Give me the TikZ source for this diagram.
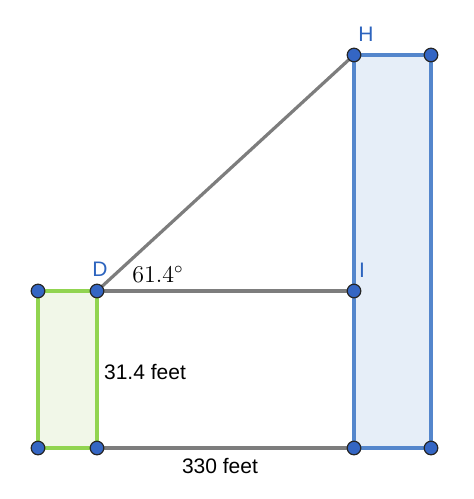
\documentclass[tikz,border=0pt]{standalone}
\usepackage{fontspec}
\setmainfont{Liberation Sans}
\definecolor{ptblue}{RGB}{52,102,196}
\definecolor{lblblue}{RGB}{45,100,190}
\definecolor{grn}{RGB}{145,212,80}
\definecolor{grnfill}{RGB}{241,247,232}
\definecolor{blu}{RGB}{84,134,204}
\definecolor{blufill}{RGB}{230,238,248}
\definecolor{seg}{RGB}{125,125,125}
\tikzset{
  pt/.style={circle,fill=ptblue,draw=black!85,line width=0.6pt,inner sep=0pt,minimum size=6.8pt},
  lbl/.style={text=lblblue,font=\fontsize{10.5}{12}\selectfont},
  txt/.style={font=\fontsize{10.5}{12}\selectfont}
}
\begin{document}
\begin{tikzpicture}[x=0.5pt,y=-0.5pt,line width=1.6pt]
\useasboundingbox (0,0) rectangle (474,499);
\coordinate (A) at (38,291);
\coordinate (B) at (38,448);
\coordinate (C) at (97,448);
\coordinate (D) at (97,291);
\coordinate (I) at (354,291);
\coordinate (J) at (354,448);
\coordinate (H) at (354,55);
\coordinate (K) at (431,55);
\coordinate (L) at (431,448);
\draw[grn,fill=grnfill] (A) -- (B) -- (C) -- (D) -- cycle;
\draw[blu,fill=blufill] (H) -- (K) -- (L) -- (J) -- cycle;
\draw[seg] (D) -- (H);
\draw[seg] (D) -- (I);
\draw[seg] (C) -- (J);
\foreach \p in {A,B,C,D,I,J,H,K,L}
{
	\node[pt] at (\p) {};
}
\node[lbl] (labD) at (100,269) {D};
\node[lbl] (labH) at (366,34) {H};
\node[lbl] (labI) at (362,270) {I};
\node[font=\fontsize{12}{14}\selectfont] (ang) at (158,274) {$61.4^\circ$};
\node[txt] (hgt) at (145,372) {31.4 feet};
\node[txt] (dist) at (220,466) {330 feet};
\end{tikzpicture}
\end{document}
